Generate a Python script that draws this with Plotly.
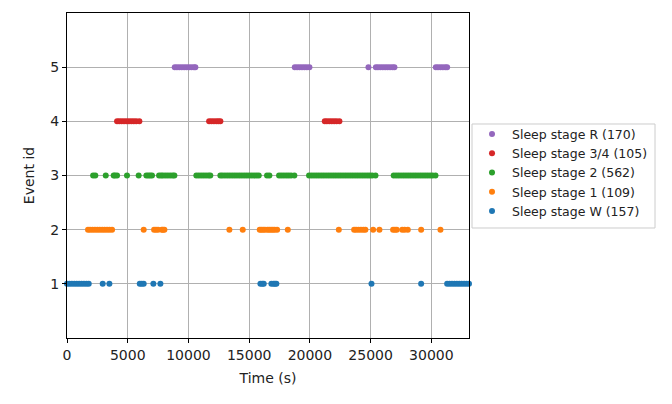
import plotly.graph_objects as go

# Event times (s) per sleep stage
stage_names = ["Sleep stage W", "Sleep stage 1", "Sleep stage 2", "Sleep stage 3/4", "Sleep stage R"]
stage_ids = [1, 2, 3, 4, 5]
stage_counts = [157, 109, 562, 105, 170]
stage_colors = ["#1f77b4", "#ff7f0e", "#2ca02c", "#d62728", "#9467bd"]

times_w = [0, 200, 400, 600, 800, 1000, 1200, 1400, 1600, 1790, 2940, 3490,
           5990, 6150, 6315, 7110, 7690,
           15925, 16080, 16200, 16830, 17000, 17120, 17240,
           25070, 29160,
           31300, 31500, 31700, 31900, 32100, 32300, 32500, 32700, 32900, 33100]

times_1 = [1730, 1900, 2100, 2300, 2500, 2700, 2900, 3100, 3300, 3500, 3710,
           6315, 7170, 7330, 7500, 7800, 7900, 8020,
           13370, 14470,
           15870, 16000, 16150, 16300, 16500, 16650, 16800, 16950, 17100, 17300,
           18180, 22380,
           23640, 23800, 24000, 24200, 24400, 24570,
           25205, 25725,
           26850, 27000, 27150, 27600, 27800, 28060,
           29160, 30750]

times_2 = [2150, 2330, 3190, 3845, 3950, 4120, 4940, 5900,
           6535, 6700, 6850, 7000,
           7580, 7750, 7900, 8100, 8300, 8500, 8700, 8840,
           10650, 10850, 11050, 11250, 11450, 11650, 11800,
           12630, 12800, 13000, 13200, 13400, 13600, 13800, 14000, 14200, 14400,
           14600, 14800, 15000, 15200, 15400, 15600, 15790,
           16470, 16665,
           17460, 17650, 17850, 18050, 18250, 18450, 18720,
           19930, 20130, 20330, 20530, 20730, 20930, 21130, 21330, 21530, 21730,
           21930, 22130, 22330, 22530, 22730, 22930, 23130, 23330, 23530, 23730,
           23930, 24130, 24330, 24530, 24730, 24930, 25130, 25400,
           26900, 27100, 27300, 27500, 27700, 27900, 28100, 28300, 28500, 28700,
           28900, 29100, 29300, 29500, 29700, 29900, 30100, 30340]

times_34 = [4120, 4300, 4500, 4700, 4900, 5100, 5300, 5500, 5700, 5960,
            11700, 11900, 12100, 12300, 12470, 12630,
            21225, 21400, 21600, 21800, 22000, 22200, 22430]

times_r = [8870, 9050, 9250, 9450, 9650, 9850, 10050, 10250, 10450, 10570,
           18755, 18950, 19150, 19350, 19550, 19750, 19960,
           24820,
           25430, 25600, 25800, 26000, 26200, 26400, 26600, 26800, 26960,
           30370, 30550, 30750, 30950, 31150, 31300]

stage_times = [times_w, times_1, times_2, times_34, times_r]

x_ticks = [0, 5000, 10000, 15000, 20000, 25000, 30000]
x_tick_labels = ["0", "5000", "10000", "15000", "20000", "25000", "30000"]
y_ticks = [1, 2, 3, 4, 5]
y_tick_labels = ["1", "2", "3", "4", "5"]
x_max = 33100

fig = go.Figure()
for name, eid, cnt, col, ts in zip(stage_names, stage_ids, stage_counts, stage_colors, stage_times):
    fig.add_trace(go.Scatter(
        x=ts, y=[eid] * len(ts), mode="markers",
        name=f"{name} ({cnt})",
        marker=dict(color=col, size=6, line=dict(width=0)),
        cliponaxis=False,
    ))

axis_common = dict(
    showline=True, linecolor="black", linewidth=1, mirror=True,
    ticks="outside", ticklen=4, tickcolor="black", tickwidth=1,
    showgrid=True, gridcolor="#b0b0b0", gridwidth=1,
    zeroline=False,
    tickfont=dict(family="DejaVu Sans", size=14, color="#222"),
    title_font=dict(family="DejaVu Sans", size=14, color="#222"),
)

# legend frame (matplotlib-style box)
fig.add_shape(type="rect", xref="paper", yref="paper",
              x0=1.0075, x1=1.4627, y0=0.3385, y1=0.6585,
              line=dict(color="#cccccc", width=1), fillcolor="white", layer="below")

fig.update_layout(
    width=672, height=404,
    margin=dict(l=67, r=203, t=13, b=66),
    paper_bgcolor="white", plot_bgcolor="white",
    xaxis=dict(range=[0, x_max], tickvals=x_ticks, ticktext=x_tick_labels,
               title=dict(text="Time (s)", standoff=11), **axis_common),
    yaxis=dict(range=[0, 6], tickvals=y_ticks, ticktext=y_tick_labels,
               title=dict(text="Event id", standoff=12), **axis_common),
    legend=dict(
        x=1.0075, y=0.673, xanchor="left", yanchor="top",
        traceorder="reversed",
        borderwidth=0, bgcolor="rgba(0,0,0,0)",
        font=dict(family="DejaVu Sans", size=12.5, color="#222"),
        itemwidth=30, tracegroupgap=0,
    ),
    showlegend=True,
)

fig.write_html("out.html")
